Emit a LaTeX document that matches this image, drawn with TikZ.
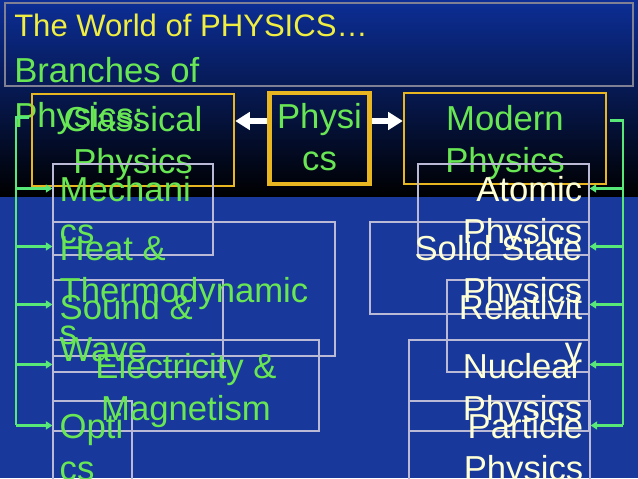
\documentclass[tikz,border=0pt]{standalone}
\usepackage{fontspec}
\setmainfont{Liberation Sans}
\usetikzlibrary{calc,fit,arrows.meta,positioning}

\definecolor{slgreen}{RGB}{104,230,84}
\definecolor{lngreen}{RGB}{88,232,120}
\definecolor{sltitle}{RGB}{240,238,64}
\definecolor{slgold}{RGB}{232,182,32}
\definecolor{slcream}{RGB}{255,255,214}
\definecolor{slframe}{RGB}{186,186,214}
\definecolor{slgray}{RGB}{128,128,148}
\definecolor{sltop}{RGB}{12,46,150}
\definecolor{slmid}{RGB}{8,28,104}
\definecolor{sllow}{RGB}{24,56,156}

\tikzset{
  thinbox/.style={draw=slframe, line width=0.8pt, inner sep=0pt},
  goldbox/.style={draw=slgold, line width=1.8pt, inner sep=0pt},
  gtxt/.style={text=slgreen, inner sep=0pt, font=\fontsize{26}{31.5}\selectfont},
  wtxt/.style={text=slcream, inner sep=0pt, font=\fontsize{26}{31.5}\selectfont},
  gline/.style={draw=lngreen, line width=2pt},
  gtip/.style={-{Triangle[length=5pt,width=6pt]}},
  warrow/.style={draw=white, line width=4.5pt, -{Triangle[length=11pt,width=13pt]}}
}

\begin{document}
\begin{tikzpicture}[x=0.75pt,y=-0.75pt]
  \useasboundingbox (0,0) rectangle (638,478);
  % Fundo
  \shade[top color=sltop, middle color=slmid, bottom color=black] (0,0) rectangle (638,197);
  \fill[sllow] (0,197) rectangle (638,478);

  % Titulo
  \node[draw=slgray, line width=1pt, inner sep=0pt, fit={(5,3) (633,86)}] (tbox) {};
  \node[anchor=base west, inner sep=0pt, text=sltitle, font=\fontsize{23.3}{28}\selectfont] (title) at (14,37) {The World of PHYSICS…};
  \node[gtxt, anchor=base west, align=left, font=\fontsize{26}{33}\selectfont] (branch) at (14,127) {Branches of\\Physics:};

  % Caixas de cima (base = ultima linha)
  \node[goldbox, fit={(32,94) (234,186)}] (clas) {};
  \node[goldbox, line width=3.4pt, fit={(269.5,93) (369.5,184)}] (phys) {};
  \node[goldbox, fit={(404,93) (606,184)}] (modn) {};
  \node[gtxt, anchor=base, align=center] (clas-t) at ($(clas.north)+(0,81)$) {Classical\\Physics};
  \node[gtxt, anchor=base, align=center] (phys-t) at ($(phys.north)+(0,80)$) {Physi\\cs};
  \node[gtxt, anchor=base, align=center] (modn-t) at ($(modn.north)+(0,81)$) {Modern\\Physics};

  % Ramos classicos
  \node[thinbox, fit={(53,164) (213,255)}] (mech) {};
  \node[thinbox, fit={(53,222) (335,356)}] (heat) {};
  \node[thinbox, fit={(53,280) (223,372)}] (sound) {};
  \node[thinbox, fit={(53,340) (319,431)}] (elec) {};
  \node[thinbox, fit={(53,401) (132,492)}] (opt) {};
  \node[gtxt, anchor=base west, align=left] (mech-t) at ($(mech.north west)+(7,80)$) {Mechani\\cs};
  \node[gtxt, anchor=base west, align=left] (heat-t) at ($(heat.north west)+(7,123)$) {Heat \&\\Thermodynamic\\s};
  \node[gtxt, anchor=base west, align=left] (sound-t) at ($(sound.north west)+(7,82)$) {Sound \&\\Wave};
  \node[gtxt, anchor=base, align=center] (elec-t) at ($(elec.north)+(0,81)$) {Electricity \&\\Magnetism};
  \node[gtxt, anchor=base west, align=left] (opt-t) at ($(opt.north west)+(7,80)$) {Opti\\cs};

  % Ramos modernos
  \node[thinbox, fit={(418,164) (589,255)}] (atom) {};
  \node[thinbox, fit={(370,222) (589,314)}] (solid) {};
  \node[thinbox, fit={(447,280) (589,372)}] (relat) {};
  \node[thinbox, fit={(409,340) (589,431)}] (nucl) {};
  \node[thinbox, fit={(409,401) (590,492)}] (part) {};
  \node[wtxt, anchor=base east, align=right] (atom-t) at ($(atom.north east)+(-7,80)$) {Atomic\\Physics};
  \node[wtxt, anchor=base east, align=right] (solid-t) at ($(solid.north east)+(-7,81)$) {Solid State\\Physics};
  \node[wtxt, anchor=base east, align=right] (relat-t) at ($(relat.north east)+(-7,82)$) {Relativit\\y};
  \node[wtxt, anchor=base east, align=right] (nucl-t) at ($(nucl.north east)+(-7,81)$) {Nuclear\\Physics};
  \node[wtxt, anchor=base east, align=right] (part-t) at ($(part.north east)+(-7,80)$) {Particle\\Physics};

  % Setas brancas
  \coordinate (lev) at (320,121);
  \draw[warrow] (phys.west |- lev) -- (clas.east |- lev);
  \draw[warrow] (phys.east |- lev) -- (modn.west |- lev);

  % Chaves verdes
  \coordinate (lsp) at (16,0);
  \coordinate (rsp) at (623,0);
  \foreach \b in {mech,heat,sound,elec,opt}{
    \coordinate (\b-in) at ($(\b.north west)+(0,25)$);
    \draw[gline,gtip] (lsp |- \b-in) -- (\b-in);
  }
  \foreach \b in {atom,solid,relat,nucl,part}{
    \coordinate (\b-in) at ($(\b.north east)+(0,25)$);
    \draw[gline,gtip] (rsp |- \b-in) -- (\b-in);
  }
  \draw[gline] ($(clas.north west)+(-2,25)$) -| (lsp |- opt-in);
  \draw[gline] ($(modn.north east)+(3,29)$) -| (rsp |- part-in);
\end{tikzpicture}
\end{document}
